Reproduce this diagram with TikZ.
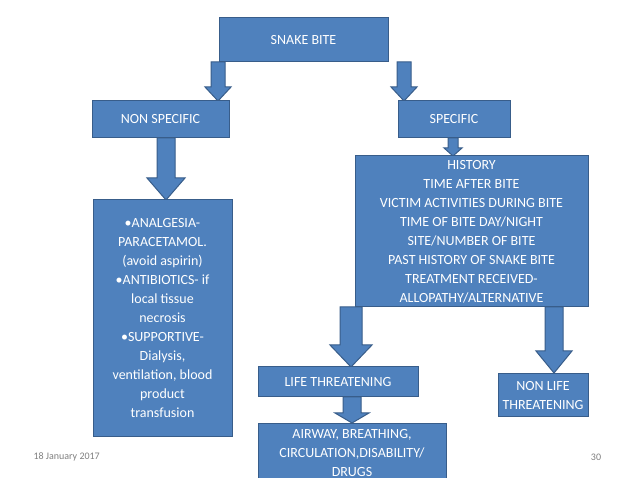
\documentclass[tikz,border=0pt]{standalone}
\usepackage{fontspec}
\setmainfont{Carlito}
\begin{document}
\begin{tikzpicture}[x=1pt,y=-1pt,
  box/.style={draw=bedge,fill=bfill,line width=1pt,text=white,font=\fontsize{14}{19}\selectfont,align=center,inner sep=0pt},
  barrow/.style={draw=bedge,fill=bfill,line width=1pt}]
\definecolor{bfill}{HTML}{4F81BD}
\definecolor{bedge}{HTML}{385D8A}
\useasboundingbox (0,0) rectangle (638,478);
\fill[white] (0,0) rectangle (638,478);
\newcommand{\barr}[6]{% xc ytop ybot shafthalf headhalf headlen
  \draw[barrow] (#1-#4,#2) -- (#1+#4,#2) -- (#1+#4,#3-#6) -- (#1+#5,#3-#6) -- (#1,#3) -- (#1-#5,#3-#6) -- (#1-#4,#3-#6) -- cycle;}
\barr{218}{62}{101}{7}{13}{14}
\barr{404}{62}{101}{7}{13}{14}
\barr{166}{138}{200}{9}{19}{22}
\barr{453}{138}{156}{5}{9}{8}
\barr{351}{307}{367}{11}{21}{22}
\barr{554}{307}{373}{9}{18}{22}
\barr{352}{397}{423}{9}{17}{10}
\node[box,minimum width=169,minimum height=44] (sb) at (303.5,40) {SNAKE BITE};
\node[box,minimum width=137,minimum height=37] (ns) at (160.5,119.5) {NON SPECIFIC};
\node[box,minimum width=112,minimum height=37] (sp) at (454,119.5) {SPECIFIC};
\node[box,minimum width=139,minimum height=237] (lst) at (162.5,318.5) {•ANALGESIA-\\PARACETAMOL.\\(avoid aspirin)\\•ANTIBIOTICS- if\\local tissue\\necrosis\\•SUPPORTIVE-\\Dialysis,\\ventilation, blood\\product\\transfusion};
\node[box,minimum width=233,minimum height=151] (hist) at (471.5,231.5) {HISTORY\\TIME AFTER BITE\\VICTIM ACTIVITIES DURING BITE\\TIME OF BITE DAY/NIGHT\\SITE/NUMBER OF BITE\\PAST HISTORY OF SNAKE BITE\\TREATMENT RECEIVED-\\ALLOPATHY/ALTERNATIVE};
\node[box,minimum width=160,minimum height=30] (lt) at (338,382) {LIFE THREATENING};
\node[box,minimum width=90,minimum height=43] (nlt) at (543,395.5) {NON LIFE\\THREATENING};
\node[box,minimum width=188,minimum height=60,anchor=north] (aw) at (352,423) {AIRWAY, BREATHING,\\CIRCULATION,DISABILITY/\\DRUGS};
\node[text=gray,font=\fontsize{10}{12}\selectfont,anchor=west] (dt) at (30,457) {18 January 2017};
\node[text=gray,font=\fontsize{10}{12}\selectfont] (pg) at (596,457) {30};
\end{tikzpicture}
\end{document}
